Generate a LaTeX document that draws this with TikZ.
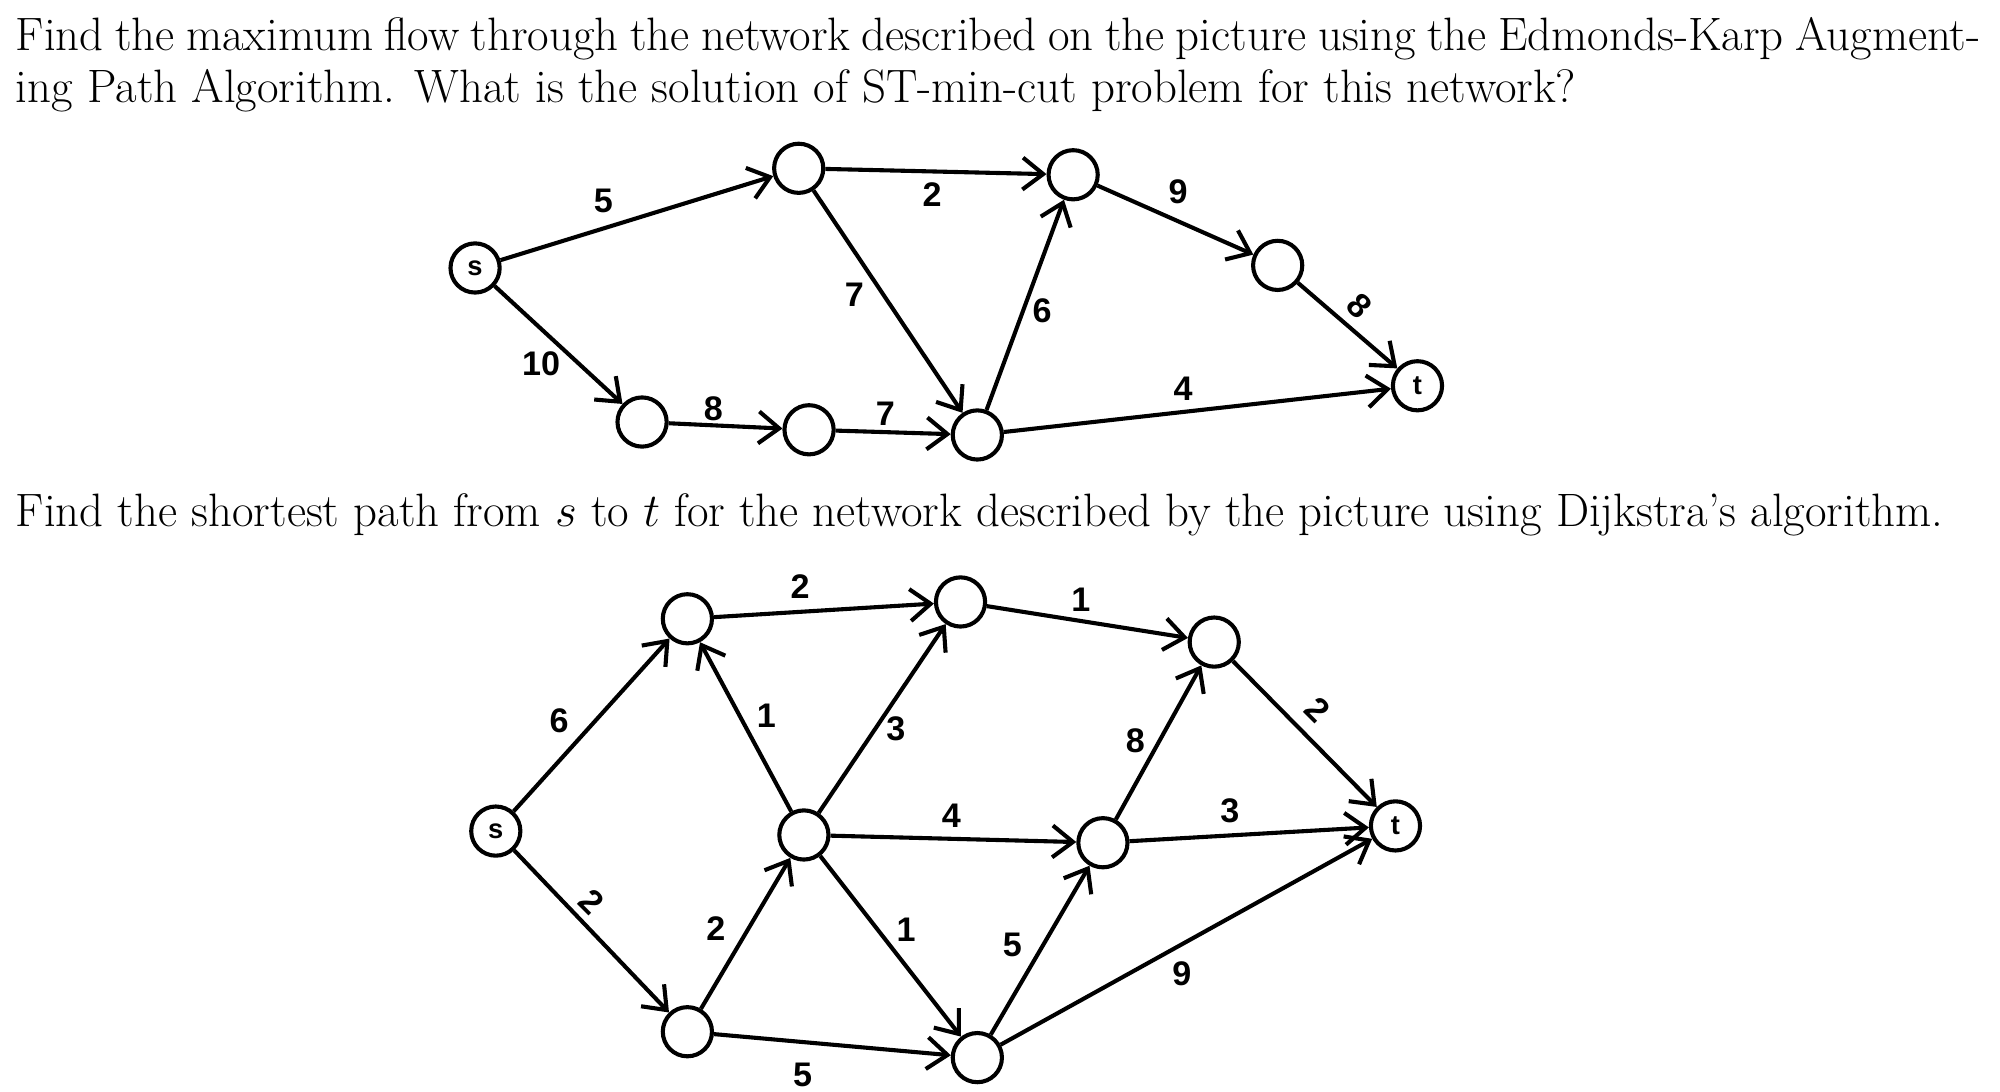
\documentclass[tikz,border=0pt]{standalone}
\usepackage{fontspec}
\newfontfamily\lab{Liberation Sans}
\usetikzlibrary{arrows.meta}
\begin{document}
\begin{tikzpicture}[x=0.02cm,y=-0.02cm,
  vx/.style={circle,draw,line width=1.8pt,minimum size=0.76cm,inner sep=0pt,font=\lab\bfseries\fontsize{12}{12}\selectfont},
  ed/.style={line width=1.8pt,-{Straight Barb[length=9pt,width=14pt,line width=1.8pt]}},
  lb/.style={font=\lab\bfseries\fontsize{15}{15}\selectfont},
  txt/.style={anchor=west,inner sep=0pt,font=\fontsize{20.6}{22.8}\selectfont}]
\useasboundingbox (0,0) rectangle (1545,843);
\node[txt,text width=30.36cm,align=justify] (t1) at (12,50) {Find the maximum flow through the network described on the picture using the Edmonds-Karp Augment-\linebreak ing Path Algorithm. What is the solution of ST-min-cut problem for this network?};
\node[txt] (t3) at (12,398) {Find the shortest path from $s$ to $t$ for the network described by the picture using Dijkstra's algorithm.};
% top graph
\node[vx] (s) at (367,207) {s};
\node[vx] (A) at (617,130) {};
\node[vx] (B) at (829,135) {};
\node[vx] (C) at (987,205) {};
\node[vx] (T) at (1095,298) {t};
\node[vx] (D) at (496,326) {};
\node[vx] (E) at (625,332) {};
\node[vx] (F) at (755,336) {};
\draw[ed] (s) -- (A); \node[lb] (l1) at (466,155) {5};
\draw[ed] (A) -- (B); \node[lb] (l2) at (720,150) {2};
\draw[ed] (B) -- (C); \node[lb] (l3) at (910,148) {9};
\draw[ed] (C) -- (T); \node[lb,rotate=-45] (l4) at (1050,236) {8};
\draw[ed] (s) -- (D); \node[lb] (l5) at (418,281) {10};
\draw[ed] (D) -- (E); \node[lb] (l6) at (551,316) {8};
\draw[ed] (E) -- (F); \node[lb] (l7) at (684,320) {7};
\draw[ed] (A) -- (F); \node[lb] (l8) at (660,228) {7};
\draw[ed] (F) -- (B); \node[lb] (l9) at (805,240) {6};
\draw[ed] (F) -- (T); \node[lb] (l10) at (914,300) {4};
% bottom graph
\node[vx] (s2) at (383,642) {s};
\node[vx] (a) at (531,478) {};
\node[vx] (b) at (742,465) {};
\node[vx] (c) at (938,496) {};
\node[vx] (t2) at (1078,638) {t};
\node[vx] (m) at (621,645) {};
\node[vx] (n) at (852,651) {};
\node[vx] (d) at (531,797) {};
\node[vx] (e) at (755,817) {};
\draw[ed] (a) -- (b); \node[lb] (k1) at (618,453) {2};
\draw[ed] (b) -- (c); \node[lb] (k2) at (835,463) {1};
\draw[ed] (c) -- (t2); \node[lb,rotate=-45] (k3) at (1018,548) {2};
\draw[ed] (s2) -- (a); \node[lb] (k4) at (432,557) {6};
\draw[ed] (m) -- (a); \node[lb] (k5) at (592,553) {1};
\draw[ed] (m) -- (b); \node[lb] (k6) at (692,563) {3};
\draw[ed] (m) -- (n); \node[lb] (k7) at (735,630) {4};
\draw[ed] (n) -- (c); \node[lb] (k8) at (877,572) {8};
\draw[ed] (n) -- (t2); \node[lb] (k9) at (950,626) {3};
\draw[ed] (s2) -- (d); \node[lb,rotate=-45] (k10) at (457,697) {2};
\draw[ed] (d) -- (m); \node[lb] (k11) at (553,717) {2};
\draw[ed] (m) -- (e); \node[lb] (k12) at (700,718) {1};
\draw[ed] (e) -- (n); \node[lb] (k13) at (782,730) {5};
\draw[ed] (e) -- (t2); \node[lb] (k14) at (913,752) {9};
\draw[ed] (d) -- (e); \node[lb] (k15) at (620,830) {5};
\end{tikzpicture}
\end{document}
